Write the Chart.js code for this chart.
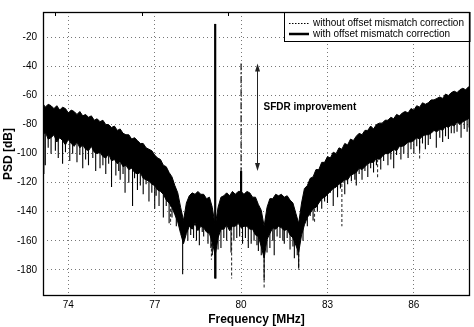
<!DOCTYPE html>
<html>
<head>
<meta charset="utf-8">
<title>PSD</title>
<script src="https://cdn.jsdelivr.net/npm/chart.js@4.4.1/dist/chart.umd.min.js"></script>
<style>
  html, body { margin: 0; padding: 0; background: #fff; }
  #wrap { width: 474px; height: 327px; }
</style>
</head>
<body>
<div id="wrap"><canvas id="psd" width="474" height="327"></canvas></div>
<script>
(function () {

    'use strict';

    // frequency grid of the noise band (MHz)
    var freqStart = 73.1;
    var freqStep = 0.1;

    // upper edge of the dense noise band, with offset mismatch correction (dB)
    var bandTop = [
        -65, -68, -66, -67, -69, -67, -70, -68, -69, -72,
        -70, -71, -73, -71, -74, -73, -75, -74, -77, -76,
        -78, -77, -80, -80, -82, -81, -84, -83, -86, -87,
        -87, -90, -89, -91, -93, -93, -96, -97, -98, -101,
        -103, -104, -108, -109, -113, -116, -122, -127, -137, -146,
        -134, -129, -127, -128, -126, -128, -128, -131, -130, -137,
        -150, -137, -130, -129, -127, -129, -126, -128, -126, -126,
        -128, -126, -127, -130, -130, -135, -139, -150, -137, -131,
        -131, -128, -129, -128, -130, -129, -132, -134, -141, -148,
        -134, -124, -122, -117, -116, -111, -111, -106, -106, -102,
        -103, -99, -100, -96, -97, -93, -94, -90, -91, -88,
        -86, -87, -84, -84, -81, -83, -80, -79, -79, -77,
        -77, -75, -76, -73, -74, -72, -71, -72, -69, -70,
        -67, -68, -65, -66, -65, -63, -63, -62, -61, -62,
        -59, -60, -58, -57, -58, -56, -55, -56, -54, -53
    ];

    // lower edge of the dense noise band (dB)
    var bandBottom = [
        -88, -85, -90, -89, -87, -92, -89, -91, -94, -90,
        -93, -95, -92, -96, -94, -97, -98, -95, -99, -100,
        -99, -102, -103, -100, -105, -104, -107, -105, -109, -108,
        -111, -110, -113, -114, -113, -117, -118, -119, -121, -122,
        -125, -126, -128, -132, -134, -137, -142, -147, -155, -162,
        -155, -150, -152, -148, -153, -150, -151, -154, -155, -161,
        -170, -158, -152, -152, -149, -153, -150, -150, -148, -151,
        -150, -150, -152, -152, -156, -157, -164, -172, -159, -155,
        -151, -152, -150, -151, -153, -152, -156, -158, -163, -168,
        -156, -149, -144, -141, -138, -137, -134, -131, -130, -128,
        -126, -124, -123, -121, -120, -118, -118, -115, -114, -113,
        -110, -111, -109, -107, -106, -106, -103, -104, -102, -100,
        -100, -99, -97, -98, -95, -95, -94, -92, -92, -91,
        -89, -90, -88, -87, -87, -86, -84, -85, -83, -84,
        -81, -82, -80, -81, -78, -80, -78, -77, -76, -77
    ];

    // deep downward spikes of the corrected spectrum: [MHz, dB]
    var spikes = [
        [73.15, -114], [73.2, -108], [73.3, -96], [73.4, -100], [73.55, -98],
        [73.65, -103], [73.8, -107], [73.9, -99], [74.05, -105], [74.15, -100],
        [74.3, -106], [74.4, -101], [74.5, -110], [74.6, -104], [74.7, -108],
        [74.85, -103], [74.95, -112], [75.1, -110], [75.2, -108], [75.3, -114],
        [75.4, -107], [75.5, -123], [75.65, -115], [75.75, -112], [75.8, -118],
        [75.9, -114], [75.97, -127], [76.1, -120], [76.23, -136], [76.3, -117],
        [76.4, -125], [76.5, -122], [76.6, -128], [76.7, -121], [76.8, -133],
        [76.9, -127], [77.0, -138], [77.05, -129], [77.15, -136], [77.3, -144],
        [77.4, -136], [77.5, -148], [77.6, -144], [77.75, -150], [77.97, -183],
        [78.15, -160], [78.25, -156], [78.35, -158], [78.45, -160], [78.55, -163],
        [78.65, -154], [78.7, -157], [78.85, -162], [78.95, -165], [79.0, -170],
        [79.12, -186], [79.2, -166], [79.3, -165], [79.4, -158], [79.5, -160],
        [79.65, -168], [79.75, -160], [79.85, -158], [79.95, -157], [80.05, -162],
        [80.15, -158], [80.25, -165], [80.35, -162], [80.45, -160], [80.55, -163],
        [80.6, -167], [80.7, -170], [80.8, -187], [80.9, -168], [81.0, -165],
        [81.1, -160], [81.15, -170], [81.25, -157], [81.35, -158], [81.45, -160],
        [81.5, -162], [81.6, -158], [81.7, -166], [81.8, -164], [81.85, -172],
        [81.95, -170], [82.0, -179], [82.15, -160], [82.3, -150], [82.4, -143],
        [82.5, -146], [82.65, -140], [82.8, -138], [82.9, -133], [83.0, -134],
        [83.1, -127], [83.2, -136], [83.35, -130], [83.45, -124], [83.6, -128],
        [83.7, -121], [83.83, -119], [83.95, -118], [84.0, -122], [84.1, -114],
        [84.2, -118], [84.3, -112], [84.4, -116], [84.5, -110], [84.6, -113],
        [84.7, -108], [84.85, -111], [84.95, -105], [85.1, -108], [85.2, -104],
        [85.3, -110], [85.4, -101], [85.55, -104], [85.65, -100], [85.8, -103],
        [85.9, -97], [86.0, -100], [86.1, -95], [86.2, -98], [86.3, -93],
        [86.4, -97], [86.5, -94], [86.57, -90], [86.78, -96], [86.9, -89],
        [87.0, -92], [87.1, -88], [87.2, -90], [87.3, -86], [87.4, -86],
        [87.5, -85], [87.64, -89], [87.75, -83], [87.85, -85], [87.92, -82]
    ];

    // spikes of the uncorrected spectrum that show below the band: [MHz, dB]
    var dashSpikes = [
        [77.55, -149], [78.97, -173], [79.67, -186], [80.8, -193], [82.0, -180],
        [82.55, -147], [83.5, -150], [84.74, -117], [86.2, -104]
    ];

    // input tone and the offset spur at fs/2
    var toneFreq = 79.1;
    var toneLevel = -10.7;
    var spurFreq = 80.0;
    var spurWith = -112;
    var spurWithout = -38;

    var xTicks = [74, 77, 80, 83, 86];
    var yTicks = [-180, -160, -140, -120, -100, -80, -60, -40, -20];
    var topTicks = [73.55, 76.55, 79.55, 82.55, 85.55];

    var legendLabels = ['without offset mismatch correction', 'with offset mismatch correction'];
    var noteText = 'SFDR improvement';

    var FONT = '"Liberation Sans", Arial, Helvetica, sans-serif';

    function onGrid(vals) {
        return vals.map(function (v, i) {
            return { x: +(freqStart + i * freqStep).toFixed(2), y: v };
        });
    }

    function bottomAt(f) {
        var i = Math.round((f - freqStart) / freqStep);
        i = Math.max(0, Math.min(bandBottom.length - 1, i));
        return bandBottom[i];
    }

    function spikeLines(list) {
        var pts = [];
        list.forEach(function (s) {
            pts.push({ x: s[0], y: bottomAt(s[0]) + 6 });
            pts.push({ x: s[0], y: s[1] });
            pts.push({ x: s[0], y: null });
        });
        return pts;
    }

    var decor = {
        id: 'decor',
        afterDraw: function (chart) {
            var ctx = chart.ctx;
            var a = chart.chartArea;
            var xs = chart.scales.x;
            var ys = chart.scales.y;
            ctx.save();

            // double arrow for the SFDR improvement
            var ax = Math.round(xs.getPixelForValue(80.55)) + 0.5;
            var ay1 = ys.getPixelForValue(spurWithout);
            var ay2 = ys.getPixelForValue(spurWith);
            ctx.strokeStyle = '#222';
            ctx.fillStyle = '#222';
            ctx.lineWidth = 1;
            ctx.beginPath();
            ctx.moveTo(ax, ay1 + 6);
            ctx.lineTo(ax, ay2 - 6);
            ctx.stroke();
            ctx.beginPath();
            ctx.moveTo(ax, ay1); ctx.lineTo(ax - 2.5, ay1 + 8); ctx.lineTo(ax + 2.5, ay1 + 8); ctx.closePath();
            ctx.fill();
            ctx.beginPath();
            ctx.moveTo(ax, ay2); ctx.lineTo(ax - 2.5, ay2 - 8); ctx.lineTo(ax + 2.5, ay2 - 8); ctx.closePath();
            ctx.fill();

            ctx.fillStyle = '#000';
            ctx.font = 'bold 10px ' + FONT;
            ctx.textAlign = 'left';
            ctx.textBaseline = 'middle';
            ctx.fillText(noteText, ax + 6, ys.getPixelForValue(-68));

            // small ticks on the top axis
            ctx.strokeStyle = '#000';
            ctx.lineWidth = 1;
            topTicks.forEach(function (t) {
                var px = Math.round(xs.getPixelForValue(t)) + 0.5;
                ctx.beginPath();
                ctx.moveTo(px, a.top);
                ctx.lineTo(px, a.top + 4);
                ctx.stroke();
            });

            // legend box in the upper right corner
            var bx = 284.5, by = a.top, bw = a.right - 284.5, bh = 29;
            ctx.fillStyle = '#fff';
            ctx.fillRect(bx, by, bw, bh);
            ctx.strokeStyle = '#000';
            ctx.lineWidth = 1;
            ctx.strokeRect(bx, by + 0.5, bw, bh);
            var rows = [by + 11.5, by + 22];
            ctx.beginPath();
            ctx.setLineDash([1.5, 1.5]);
            ctx.lineWidth = 1;
            ctx.moveTo(289, rows[0]);
            ctx.lineTo(309, rows[0]);
            ctx.stroke();
            ctx.setLineDash([]);
            ctx.beginPath();
            ctx.lineWidth = 2.5;
            ctx.moveTo(289, rows[1]);
            ctx.lineTo(309, rows[1]);
            ctx.stroke();
            ctx.fillStyle = '#000';
            ctx.font = '10px ' + FONT;
            ctx.textBaseline = 'middle';
            ctx.fillText(legendLabels[0], 313, rows[0]);
            ctx.fillText(legendLabels[1], 313, rows[1]);

            // frame round the plot
            ctx.lineWidth = 1.3;
            ctx.strokeStyle = '#000';
            ctx.strokeRect(a.left + 0.5, a.top + 0.5, a.right - a.left - 1, a.bottom - a.top - 1);
            ctx.restore();
        }
    };

    var ctx = document.getElementById('psd').getContext('2d');
    var psdChart = new Chart(ctx, {
        type: 'line',
        data: {
            datasets: [
                {
                    label: 'tone',
                    data: [{ x: toneFreq, y: -186 }, { x: toneFreq, y: toneLevel }],
                    borderColor: '#000',
                    borderWidth: 2.2
                },
                {
                    label: 'spur with correction',
                    data: [{ x: spurFreq, y: -140 }, { x: spurFreq, y: spurWith }],
                    borderColor: '#000',
                    borderWidth: 2.2
                },
                {
                    label: 'spikes',
                    data: spikeLines(spikes),
                    borderColor: '#000',
                    borderWidth: 1.1,
                    spanGaps: false
                },
                {
                    label: legendLabels[1],
                    data: onGrid(bandTop),
                    borderColor: '#000',
                    backgroundColor: '#000',
                    borderWidth: 1,
                    fill: '+1'
                },
                {
                    label: 'band bottom',
                    data: onGrid(bandBottom),
                    borderColor: '#000',
                    borderWidth: 1
                },
                {
                    label: 'dash spikes',
                    data: spikeLines(dashSpikes),
                    borderColor: '#333',
                    borderWidth: 1.1,
                    borderDash: [3, 2],
                    spanGaps: false
                },
                {
                    label: legendLabels[0],
                    data: [{ x: spurFreq, y: -150 }, { x: spurFreq, y: spurWithout }],
                    borderColor: '#222',
                    borderWidth: 1.3,
                    borderDash: [7, 2, 2, 2]
                }
            ]
        },
        options: {
            responsive: false,
            animation: false,
            devicePixelRatio: 1,
            layout: { padding: { left: 0, top: 3, right: 4, bottom: 0 } },
            elements: {
                point: { radius: 0, hoverRadius: 0 },
                line: { tension: 0 }
            },
            plugins: {
                legend: { display: false },
                tooltip: { enabled: false },
                filler: { propagate: false }
            },
            scales: {
                x: {
                    type: 'linear',
                    min: 73.12,
                    max: 87.95,
                    afterFit: function (s) { s.height = 31; },
                    afterBuildTicks: function (s) {
                        s.ticks = xTicks.map(function (v) { return { value: v }; });
                    },
                    grid: { color: '#777', lineWidth: 1, drawTicks: false },
                    border: { display: false, dash: [1, 3] },
                    ticks: {
                        padding: 3,
                        color: '#000',
                        font: { family: FONT, size: 10 },
                        callback: function (v) { return v; }
                    },
                    title: {
                        display: true,
                        text: 'Frequency [MHz]',
                        color: '#000',
                        font: { family: FONT, size: 12, weight: 'bold' },
                        padding: { top: 0, bottom: 0 }
                    }
                },
                y: {
                    min: -198,
                    max: -2.5,
                    afterFit: function (s) { s.width = 43; },
                    afterBuildTicks: function (s) {
                        s.ticks = yTicks.map(function (v) { return { value: v }; });
                    },
                    grid: { color: '#777', lineWidth: 1, drawTicks: false },
                    border: { display: false, dash: [1, 3] },
                    ticks: {
                        padding: 6,
                        color: '#000',
                        font: { family: FONT, size: 10 },
                        callback: function (v) { return v; }
                    },
                    title: {
                        display: true,
                        text: 'PSD [dB]',
                        color: '#000',
                        font: { family: FONT, size: 12, weight: 'bold' },
                        padding: { top: 1, bottom: 0 }
                    }
                }
            }
        },
        plugins: [decor]
    });

})();
</script>
</body>
</html>
